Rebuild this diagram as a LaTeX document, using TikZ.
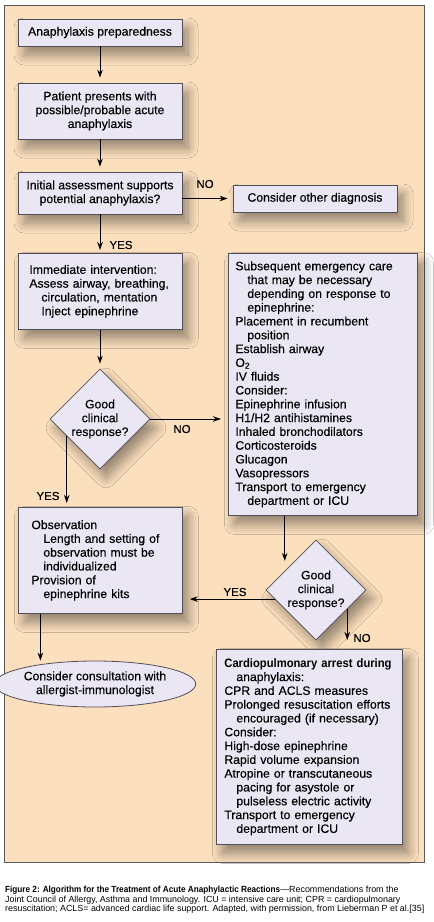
\documentclass[tikz,border=0pt]{standalone}
\usepackage{fontspec}
\setmainfont[FakeBold=0.25]{Liberation Sans}
\newfontfamily\boldcond[FakeStretch=0.92]{Liberation Sans}
\newfontfamily\capfont{Liberation Sans}
\newfontfamily\capbold[FakeStretch=0.92]{Liberation Sans Bold}
\usetikzlibrary{shapes.geometric,arrows.meta,shadows.blur,calc}
\definecolor{peach}{RGB}{252,224,190}
\definecolor{lav}{RGB}{234,230,243}
\definecolor{bord}{RGB}{80,80,88}
\newcommand{\hind}{\hspace*{12pt}}
\begin{document}
\begin{tikzpicture}[x=1pt,y=-1pt,
  shad/.style={blur shadow={shadow xshift=6pt, shadow yshift=-9pt, shadow blur radius=10pt, shadow opacity=42, shadow blur steps=12}},
  box/.style={draw=bord, line width=0.8pt, fill=lav, shad, inner ysep=0pt,
    font=\fontsize{12.2}{13.8}\selectfont},
  cbox/.style={box, align=center, inner xsep=0pt},
  lbox/.style={box, align=left, anchor=north west},
  dia/.style={shape=diamond, shape aspect=1, draw=bord, fill=lav, line width=0.8pt, shad,
    minimum width=100pt, minimum height=100pt, inner sep=0pt, align=center,
    font=\fontsize{12.2}{13.8}\selectfont},
  ellbox/.style={shape=ellipse, draw=bord, fill=lav, line width=0.8pt, inner sep=0pt,
    minimum width=174pt, minimum height=46pt, align=center,
    font=\fontsize{12.2}{13.8}\selectfont},
  lab/.style={font=\fontsize{11.5}{13}\selectfont, inner sep=0pt},
  arr/.style={-{Stealth[length=8pt,width=5.5pt]}, line width=0.9pt, shorten >=5pt}
]
\useasboundingbox (0,0) rectangle (434,922);
\fill[white] (0,0) rectangle (434,922);
\draw[fill=peach, draw=black!65, line width=0.9pt] (4,5) rectangle (424,862);

% boxes
\node[cbox, minimum width=164pt, minimum height=27pt] (prep) at (100,32.5) {Anaphylaxis preparedness};
\node[cbox, minimum width=164pt, minimum height=56pt] (pres) at (100,111) {Patient presents with\\possible/probable acute\\anaphylaxis};
\node[cbox, minimum width=164pt, minimum height=42pt] (init) at (100,193) {Initial assessment supports\\potential anaphylaxis?};
\node[cbox, minimum width=164pt, minimum height=27pt] (other) at (315,198.5) {Consider other diagnosis};

\node[lbox, inner xsep=11pt, text width=142pt, minimum height=76pt] (immed) at (18,253)
  {Immediate intervention:\\Assess airway, breathing,\\\hind circulation, mentation\\\hind Inject epinephrine};

\node[lbox, inner xsep=7pt, text width=175pt, minimum height=262pt] (subseq) at (228,253)
  {Subsequent emergency care\\\hind that may be necessary\\\hind depending on response to\\\hind epinephrine:\\
   Placement in recumbent\\\hind position\\Establish airway\\O\textsubscript{2}\\IV fluids\\Consider:\\
   Epinephrine infusion\\H1/H2 antihistamines\\Inhaled bronchodilators\\Corticosteroids\\Glucagon\\
   Vasopressors\\Transport to emergency\\\hind department or ICU};

\node[dia] (d1) at (100,419) {Good\\clinical\\response?};

\node[lbox, inner xsep=13pt, text width=138pt, minimum height=106pt] (obs) at (18,507)
  {Observation\\\hind Length and setting of\\\hind observation must be\\\hind individualized\\Provision of\\\hind epinephrine kits};

\node[dia] (d2) at (316,590) {Good\\clinical\\response?};

\node[ellbox] (ell) at (95,684) {Consider consultation with\\allergist-immunologist};

\node[lbox, inner xsep=8pt, text width=170pt, minimum height=195pt] (cardio) at (216,649)
  {{\boldcond\bfseries Cardiopulmonary arrest during}\\\hind anaphylaxis:\\CPR and ACLS measures\\
   Prolonged resuscitation efforts\\\hind encouraged (if necessary)\\Consider:\\High-dose epinephrine\\
   Rapid volume expansion\\Atropine or transcutaneous\\\hind pacing for asystole or\\
   \hind pulseless electric activity\\Transport to emergency\\\hind department or ICU};

% connectors
\draw[arr] (prep) -- (pres);
\draw[arr] (pres) -- (init);
\draw[arr] (init.east |- other.west) -- (other.west);
\draw[arr, shorten >=3pt] (init) -- (immed.north -| init.south);
\draw[arr] (immed.south -| d1.north) -- (d1.north);
\draw[arr, shorten >=7pt] (d1.east) -- (d1.east -| subseq.west);
\coordinate (d1y) at ($(d1.west)!0.34!(d1.south)$);
\draw[arr, shorten >=4pt] (d1y) -- (d1y |- obs.north);
\coordinate (d2a) at ($(d2.west)!0.38!(d2.north)$);
\draw[arr, shorten >=10pt] (d2a |- subseq.south) -- (d2a);
\coordinate (d2y) at ($(d2.west)!0.18!(d2.south)$);
\draw[arr, shorten >=7pt] (d2y) -- (d2y -| obs.east);
\coordinate (d2n) at ($(d2.east)!0.38!(d2.south)$);
\draw[arr, shorten >=9pt] (d2n) -- (d2n |- cardio.north);
\draw[arr, shorten >=0pt] ([xshift=-60pt]obs.south) -- ([xshift=-60pt]obs.south |- ell.north);

% labels
\node[lab] (no1) at (205,184) {NO};
\node[lab] (yes1) at (121,245) {YES};
\node[lab] (no2) at (182,429) {NO};
\node[lab] (yes2) at (48,496) {YES};
\node[lab] (yes3) at (235,592) {YES};
\node[lab] (no3) at (362,638) {NO};

% caption
\node[anchor=north west, inner sep=0pt, align=left, font=\capfont\fontsize{8.9}{9.6}\selectfont] (caption) at (5,886)
  {{\capbold Figure 2: Algorithm for the Treatment of Acute Anaphylactic Reactions}—Recommendations from the\\
   Joint Council of Allergy, Asthma and Immunology. ICU = intensive care unit; CPR = cardiopulmonary\\
   resuscitation; ACLS= advanced cardiac life support. Adapted, with permission, from Lieberman P et al.[35]};
\end{tikzpicture}
\end{document}
